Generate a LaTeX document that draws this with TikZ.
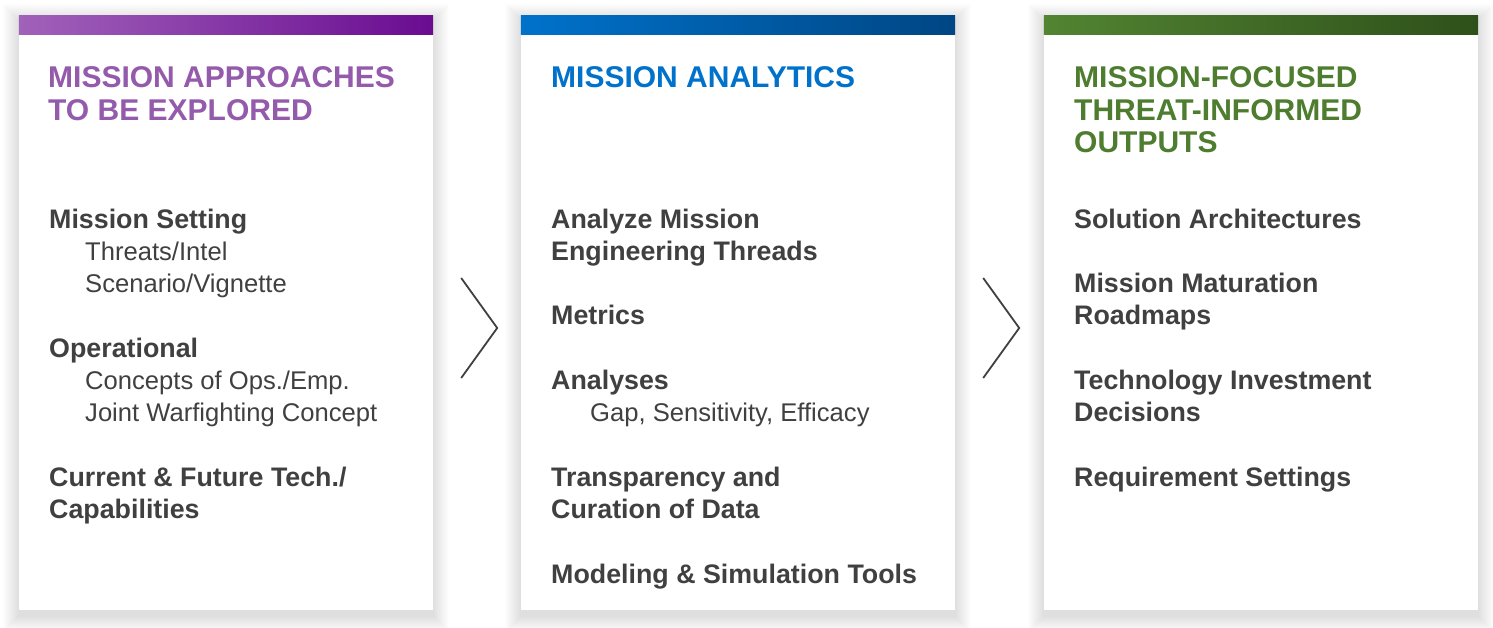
\documentclass[tikz,border=0pt]{standalone}
\usepackage{fontspec}
\setmainfont{Liberation Sans}
\usetikzlibrary{backgrounds}
\definecolor{purpleA}{RGB}{161,98,186}
\definecolor{purpleB}{RGB}{106,12,145}
\definecolor{blueA}{RGB}{0,114,203}
\definecolor{blueB}{RGB}{0,70,132}
\definecolor{greenA}{RGB}{82,132,50}
\definecolor{greenB}{RGB}{46,80,26}
\definecolor{txtgray}{RGB}{64,64,64}
\newcommand\bhead[1]{{\fontsize{26.8}{32.3}\selectfont\bfseries #1}}
\newcommand\bsub[1]{\hspace*{36pt}{\fontsize{25.6}{32.3}\selectfont #1}}

\begin{document}
\begin{tikzpicture}[x=1pt,y=-1pt,
  panel node/.style={fill=white,inner sep=0pt,minimum height=594pt},
  title node/.style={anchor=base west,inner sep=0pt,align=left,
    font=\fontsize{30}{32.3}\selectfont\bfseries},
  body node/.style={anchor=base west,inner sep=0pt,align=left,text=txtgray,
    font=\fontsize{25.6}{32.3}\selectfont},
  chev/.style={draw=txtgray,line width=1.8pt,miter limit=10}]
  \useasboundingbox (0,0) rectangle (1493,628);

  \node[panel node,minimum width=414pt] (p1) at (226,313) {};
  \node[panel node,minimum width=434pt] (p2) at (738,313) {};
  \node[panel node,minimum width=434pt] (p3) at (1261,313) {};

  % soft shadows
  \begin{scope}[on background layer]
    \foreach \p in {p1,p2,p3}
      \foreach \i in {1,...,16}
        \fill[black,opacity=0.006]
          ([shift={(-\i pt,\i pt-4pt)}]\p.north west) rectangle
          ([shift={(\i pt,-\i pt-6pt)}]\p.south east);
  \end{scope}

  % colour bars
  \shade[left color=purpleA,right color=purpleB] (p1.north west) rectangle ([yshift=-19pt]p1.north east);
  \shade[left color=blueA,right color=blueB] (p2.north west) rectangle ([yshift=-19pt]p2.north east);
  \shade[left color=greenA,right color=greenB] (p3.north west) rectangle ([yshift=-19pt]p3.north east);

  % base anchor = last line of each node
  \node[title node,text=purpleA!92!black] (t1) at (48,120.3) {MISSION APPROACHES\\TO BE EXPLORED};
  \node[title node,text=blueA] (t2) at (551,88) {MISSION ANALYTICS};
  \node[title node,text=greenA!95!black] (t3) at (1074,152.6) {MISSION-FOCUSED\\THREAT-INFORMED\\OUTPUTS};

  \node[body node] (b1) at (49,518.7) {\bhead{Mission Setting}\\
    \bsub{Threats/Intel}\\
    \bsub{Scenario/Vignette}\\[32.3pt]
    \bhead{Operational}\\
    \bsub{Concepts of Ops./Emp.}\\
    \bsub{Joint Warfighting Concept}\\[32.3pt]
    \bhead{Current \& Future Tech./}\\
    \bhead{Capabilities}};
  \node[body node] (b2) at (551,583.3) {\bhead{Analyze Mission}\\
    \bhead{Engineering Threads}\\[32.3pt]
    \bhead{Metrics}\\[32.3pt]
    \bhead{Analyses}\\
    \hspace*{3pt}\bsub{Gap, Sensitivity, Efficacy}\\[32.3pt]
    \bhead{Transparency and}\\
    \bhead{Curation of Data}\\[32.3pt]
    \bhead{Modeling \& Simulation Tools}};
  \node[body node] (b3) at (1074,486.4) {\bhead{Solution Architectures}\\[32.3pt]
    \bhead{Mission Maturation}\\
    \bhead{Roadmaps}\\[32.3pt]
    \bhead{Technology Investment}\\
    \bhead{Decisions}\\[32.3pt]
    \bhead{Requirement Settings}};

  % chevrons between panels
  \foreach \p in {p1,p2}
    \draw[chev] ([shift={(28pt,35pt)}]\p.east) -- ([shift={(64pt,-15pt)}]\p.east)
      -- ([shift={(28pt,-65pt)}]\p.east);
\end{tikzpicture}
\end{document}
